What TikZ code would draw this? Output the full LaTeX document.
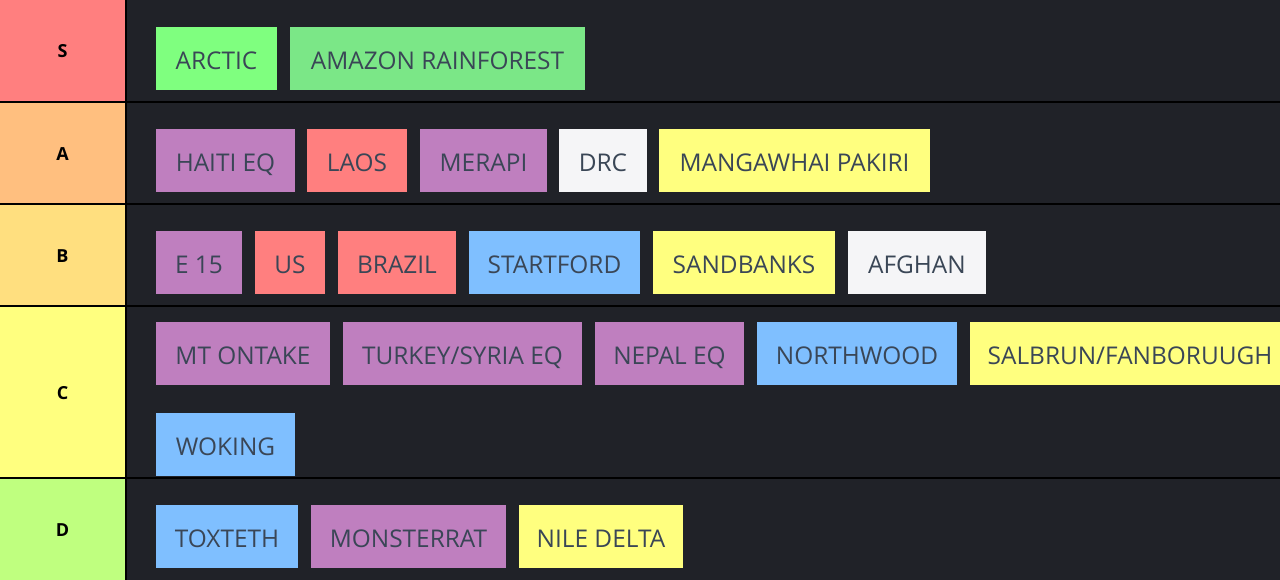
\documentclass[tikz,border=0pt]{standalone}
\usepackage{fontspec}
\setmainfont{Open Sans}
\definecolor{bgdark}{HTML}{202228}
\definecolor{tierS}{HTML}{FF7F7F}
\definecolor{tierA}{HTML}{FFBF7F}
\definecolor{tierB}{HTML}{FFDF7F}
\definecolor{tierC}{HTML}{FFFF7F}
\definecolor{tierD}{HTML}{BFFF7F}
\definecolor{tGreen}{HTML}{7FFF7F}
\definecolor{tGreenB}{HTML}{7BE787}
\definecolor{tPurple}{HTML}{BF7FBF}
\definecolor{tRed}{HTML}{FF7F7F}
\definecolor{tWhite}{HTML}{F5F5F7}
\definecolor{tYellow}{HTML}{FFFF7F}
\definecolor{tBlue}{HTML}{7FBFFF}
\definecolor{tText}{HTML}{3A4656}
\tikzset{
  tierlabel/.style={font=\fontsize{18}{18}\selectfont\bfseries,text=black},
  tile/.style={minimum height=63pt,inner sep=0pt,text height=22pt,text depth=0pt,text=tText,font=\fontsize{24.4}{24.4}\selectfont}
}
% tile: name, left, right, top, colour, text
\newcommand{\tile}[6]{\node[tile,fill=#5,minimum width={#3-#2}] (#1) at ({(#2+#3)/2},{#4+31.5}) {#6};}
\begin{document}
\begin{tikzpicture}[x=1pt,y=-1pt]
	\clip (0,0) rectangle (1280,580);
	\fill[black] (0,0) rectangle (1280,580);
	% tier rows
	\fill[tierS] (0,0) rectangle (125,101);
	\fill[tierA] (0,103) rectangle (125,203);
	\fill[tierB] (0,205) rectangle (125,305);
	\fill[tierC] (0,307) rectangle (125,477);
	\fill[tierD] (0,479) rectangle (125,580);
	\fill[bgdark] (127,0) rectangle (1280,101);
	\fill[bgdark] (127,103) rectangle (1280,203);
	\fill[bgdark] (127,205) rectangle (1280,305);
	\fill[bgdark] (127,307) rectangle (1280,477);
	\fill[bgdark] (127,479) rectangle (1280,580);
	\node[tierlabel] (labS) at (62.5,51.5) {S};
	\node[tierlabel] (labA) at (62.5,154.5) {A};
	\node[tierlabel] (labB) at (62.5,256.5) {B};
	\node[tierlabel] (labC) at (62.5,393.5) {C};
	\node[tierlabel] (labD) at (62.5,530.5) {D};
	% S
	\tile{arctic}{156}{277}{27}{tGreen}{ARCTIC}
	\tile{amazon}{290}{585}{27}{tGreenB}{AMAZON RAINFOREST}
	% A
	\tile{haiti}{156}{295}{129}{tPurple}{HAITI EQ}
	\tile{laos}{307}{407}{129}{tRed}{LAOS}
	\tile{merapi}{420}{547}{129}{tPurple}{MERAPI}
	\tile{drc}{559}{647}{129}{tWhite}{DRC}
	\tile{mangawhai}{659}{930}{129}{tYellow}{MANGAWHAI PAKIRI}
	% B
	\tile{efifteen}{156}{242}{231}{tPurple}{E 15}
	\tile{us}{255}{325}{231}{tRed}{US}
	\tile{brazil}{338}{456}{231}{tRed}{BRAZIL}
	\tile{startford}{469}{640}{231}{tBlue}{STARTFORD}
	\tile{sandbanks}{653}{835}{231}{tYellow}{SANDBANKS}
	\tile{afghan}{848}{986}{231}{tWhite}{AFGHAN}
	% C
	\tile{ontake}{156}{330}{322}{tPurple}{MT ONTAKE}
	\tile{turkey}{343}{582}{322}{tPurple}{TURKEY/SYRIA EQ}
	\tile{nepal}{595}{744}{322}{tPurple}{NEPAL EQ}
	\tile{northwood}{757}{957}{322}{tBlue}{NORTHWOOD}
	\tile{salbrun}{970}{1290}{322}{tYellow}{SALBRUN/FANBORUUGH}
	\tile{woking}{156}{295}{413}{tBlue}{WOKING}
	% D
	\tile{toxteth}{156}{298}{505}{tBlue}{TOXTETH}
	\tile{monsterrat}{311}{506}{505}{tPurple}{MONSTERRAT}
	\tile{nile}{519}{683}{505}{tYellow}{NILE DELTA}
\end{tikzpicture}
\end{document}
